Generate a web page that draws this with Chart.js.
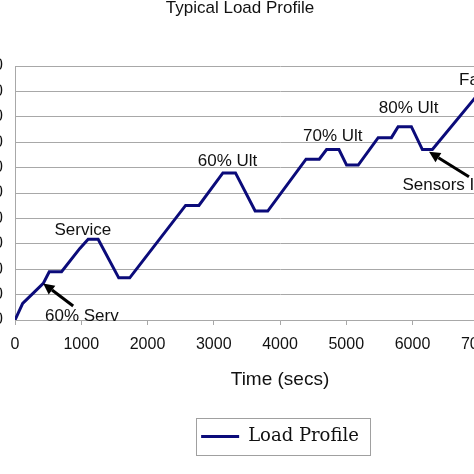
<!DOCTYPE html>
<html><head><meta charset="utf-8">
<script src="https://cdn.jsdelivr.net/npm/chart.js@4"></script>
<style>
html,body{margin:0;padding:0;background:#fff;overflow:hidden;width:474px;height:474px;}
#wrap{position:relative;width:474px;height:474px;overflow:hidden;background:#fff;}
#c{position:absolute;left:-75px;top:0;}
</style></head><body>
<div id="wrap"><canvas id="c" width="630" height="474"></canvas></div>
<script>
// ---- data ----
const timeSecs   = [0, 116, 427, 517, 703, 979, 1104, 1255, 1566, 1732, 2575, 2776, 3138, 3328, 3625, 3815, 4393, 4593, 4703, 4890, 5005, 5181, 5482, 5682, 5783, 5983, 6149, 6300, 7050];
const loadValues = [0, 6.5, 14.4, 19, 19, 28.2, 31.8, 31.8, 16.6, 16.6, 45.1, 45.1, 57.9, 57.9, 42.9, 42.9, 63.3, 63.3, 67.1, 67.1, 61, 61, 71.8, 71.8, 76.1, 76.1, 67.1, 67.1, 90.8];
const seriesName = 'Load Profile';
const chartTitle = 'Typical Load Profile';
const xTitle = 'Time (secs)';
const xRange = [0, 8000];
const xStep = 1000;
const yRange = [0, 100];
const yStep = 10;
const noteTexts = ['Service', '60% Serv', '60% Ult', '70% Ult', '80% Ult', 'Sensors Installed', 'Failure'];
const noteX     = [1024, 1009, 3208, 4797, 5941, 5849, 6702];
const noteY     = [35.4, 1.3, 62.3, 72.4, 83.2, 53.1, 94.4];
const noteAlign = ['center', 'center', 'center', 'center', 'center', 'left', 'left'];
const arrowFromX = [878, 6852];
const arrowFromY = [5.5, 56.4];
const arrowToX   = [426, 6250];
const arrowToY   = [14.4, 66.2];

const sans = "'Liberation Sans', Arial, sans-serif";
const navy = '#0b0b7a';
const gridGray = '#a8a8a8';

const points = timeSecs.map((t, i) => ({x: t, y: loadValues[i]}));

const notesPlugin = {
  id: 'notes',
  afterDatasetsDraw(chart) {
    const {ctx, scales: {x, y}} = chart;
    ctx.save();
    ctx.fillStyle = '#111';
    ctx.font = '17px ' + sans;
    ctx.textBaseline = 'middle';
    noteTexts.forEach((t, i) => {
      ctx.textAlign = noteAlign[i];
      ctx.fillText(t, x.getPixelForValue(noteX[i]), y.getPixelForValue(noteY[i]));
    });
    ctx.strokeStyle = '#000';
    ctx.fillStyle = '#000';
    ctx.lineWidth = 3;
    arrowFromX.forEach((fx, i) => {
      const x0 = x.getPixelForValue(fx), y0 = y.getPixelForValue(arrowFromY[i]);
      const x1 = x.getPixelForValue(arrowToX[i]), y1 = y.getPixelForValue(arrowToY[i]);
      const ang = Math.atan2(y1 - y0, x1 - x0);
      const hl = 11, hw = 5.5;
      const bx = x1 - hl * Math.cos(ang), by = y1 - hl * Math.sin(ang);
      ctx.beginPath();
      ctx.moveTo(x0, y0); ctx.lineTo(bx, by); ctx.stroke();
      ctx.beginPath();
      ctx.moveTo(x1, y1);
      ctx.lineTo(bx + hw * Math.sin(ang), by - hw * Math.cos(ang));
      ctx.lineTo(bx - hw * Math.sin(ang), by + hw * Math.cos(ang));
      ctx.closePath(); ctx.fill();
    });
    ctx.restore();
  }
};

const legendBoxPlugin = {
  id: 'legendBox',
  afterDraw(chart) {
    const lg = chart.legend;
    if (!lg || !lg.legendHitBoxes || !lg.legendHitBoxes.length) return;
    const h = lg.legendHitBoxes[0];
    const ctx = chart.ctx;
    ctx.save();
    ctx.strokeStyle = '#a0a0a0';
    ctx.lineWidth = 1;
    const l = Math.round(h.left - 5) + 0.5;
    const r = Math.round(h.left + h.width + 11) + 0.5;
    const t = Math.round(h.top - 9.5) + 0.5;
    const b = Math.round(h.top + h.height + 9.5) + 0.5;
    ctx.strokeRect(l, t, r - l, b - t);
    ctx.restore();
  }
};

new Chart(document.getElementById('c'), {
  type: 'line',
  data: {
    datasets: [{
      label: seriesName,
      data: points,
      borderColor: navy,
      backgroundColor: navy,
      borderWidth: 3,
      pointRadius: 0,
      tension: 0,
      fill: false
    }]
  },
  options: {
    responsive: false,
    animation: false,
    devicePixelRatio: 1,
    layout: {autoPadding: false, padding: {left: 0, right: 0, top: 0, bottom: 18.5}},
    plugins: {
      title: {
        display: true, text: chartTitle, color: '#111',
        font: {family: sans, size: 17, weight: 'normal', lineHeight: 1},
        padding: {top: 0, bottom: 49}
      },
      legend: {
        display: true, position: 'bottom', fullSize: false,
        labels: {
          usePointStyle: true, pointStyle: 'line', pointStyleWidth: 38,
          color: '#111', padding: 10,
          font: {family: "'DejaVu Serif', serif", size: 18}
        }
      },
      tooltip: {enabled: false}
    },
    scales: {
      x: {
        type: 'linear', min: xRange[0], max: xRange[1],
        ticks: {stepSize: xStep, color: '#111', padding: 10, maxRotation: 0, autoSkip: false,
                font: {family: sans, size: 16},
                callback: (v, i, arr) => (i === arr.length - 1 ? '' : String(v))},
        grid: {drawOnChartArea: false, drawTicks: true, tickLength: 5, color: gridGray},
        border: {display: true, color: gridGray, width: 1},
        title: {display: true, text: xTitle, color: '#111',
                font: {family: sans, size: 19}, padding: {top: 4.4, bottom: 26.1}}
      },
      y: {
        min: yRange[0], max: yRange[1],
        ticks: {stepSize: yStep, color: '#111', padding: 12, font: {family: sans, size: 16},
                callback: (v) => String(v)},
        grid: {drawTicks: false, color: gridGray},
        border: {display: true, color: gridGray, width: 1},
        afterFit(scale) { scale.width = 90; }
      }
    }
  },
  plugins: [notesPlugin, legendBoxPlugin]
});
</script>
</body></html>
